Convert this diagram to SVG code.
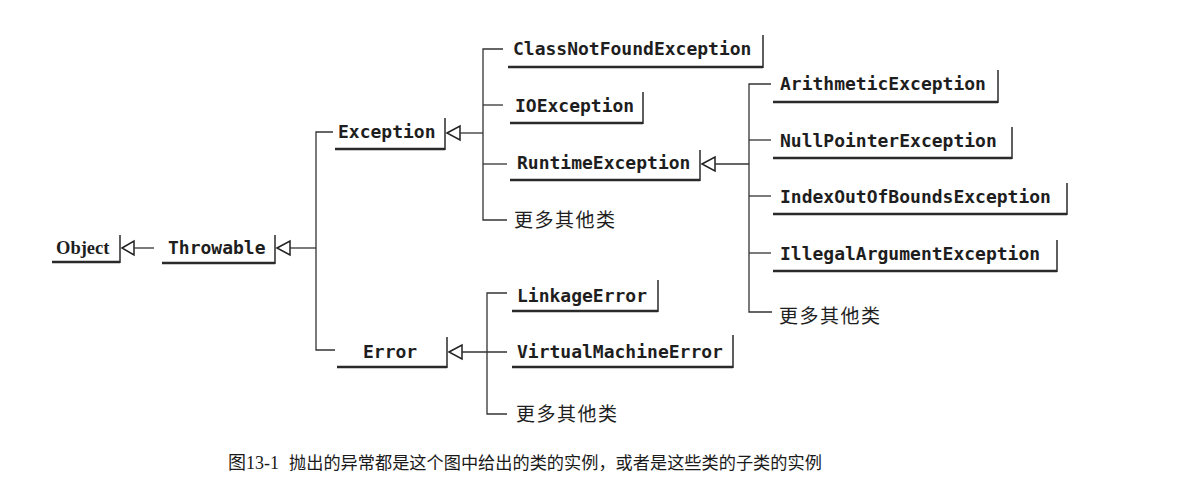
<svg xmlns="http://www.w3.org/2000/svg" width="1190" height="477" viewBox="0 0 1190 477">
<defs>
<style>
.cls{font-family:"DejaVu Sans Mono","Liberation Mono",monospace;font-weight:bold;font-size:18px;fill:#1e1e1e;}
.obj{font-family:"Liberation Serif",serif;font-weight:bold;font-size:18.5px;fill:#1e1e1e;}
.more{font-family:"Noto Sans CJK SC","Noto Sans CJK JP",sans-serif;font-size:19px;letter-spacing:1.5px;fill:#1e1e1e;}
.cap{font-family:"Liberation Serif","Noto Sans CJK SC",serif;font-size:17.2px;fill:#1a1a1a;}
.ul{stroke:#2a2a2a;stroke-width:2.6;fill:none;}
.br{stroke:#2a2a2a;stroke-width:1.5;fill:none;}
.ln{stroke:#333;stroke-width:1.3;fill:none;}
.tri{fill:#fff;stroke:#222;stroke-width:1.5;}
</style>
</defs>
<rect width="1190" height="477" fill="#fff"/>

<g id="connectors">
<!-- Object <- Throwable -->
<polygon class="tri" points="122,248 134,241 134,255"/>
<line class="ln" x1="134" y1="248" x2="154" y2="248"/>
<!-- Throwable <- Exception / Error -->
<polygon class="tri" points="277,248 290,241 290,255"/>
<line class="ln" x1="290" y1="248" x2="316" y2="248"/>
<polyline class="ln" points="333,132 316,132 316,350 335,350"/>
<!-- Exception children -->
<polygon class="tri" points="447,133 460,126 460,140"/>
<line class="ln" x1="460" y1="133" x2="483" y2="133"/>
<polyline class="ln" points="503,49 483,49 483,220 507,220"/>
<line class="ln" x1="483" y1="105" x2="503" y2="105"/>
<line class="ln" x1="483" y1="164" x2="507" y2="164"/>
<!-- RuntimeException children -->
<polygon class="tri" points="702,164 715,157 715,171"/>
<line class="ln" x1="715" y1="164" x2="749" y2="164"/>
<polyline class="ln" points="771,84 749,84 749,312 772,312"/>
<line class="ln" x1="749" y1="140" x2="771" y2="140"/>
<line class="ln" x1="749" y1="196" x2="771" y2="196"/>
<line class="ln" x1="749" y1="253" x2="771" y2="253"/>
<!-- Error children -->
<polygon class="tri" points="449,352 462,345 462,359"/>
<line class="ln" x1="462" y1="352" x2="507" y2="352"/>
<polyline class="ln" points="507,293 487,293 487,414 507,414"/>
</g>

<g id="node-object">
<text class="obj" x="56" y="254">Object</text>
<polyline class="ul" points="52,262 120,262"/>
<line class="br" x1="120" y1="235" x2="120" y2="263"/>
</g>
<g id="node-throwable">
<text class="cls" x="168" y="254">Throwable</text>
<polyline class="ul" points="162,263 275,263"/>
<line class="br" x1="275" y1="235" x2="275" y2="264"/>
</g>
<g id="node-exception">
<text class="cls" x="338" y="138">Exception</text>
<polyline class="ul" points="335,149 445,149"/>
<line class="br" x1="445" y1="118" x2="445" y2="150"/>
</g>
<g id="node-classnotfound">
<text class="cls" x="513" y="55">ClassNotFoundException</text>
<polyline class="ul" points="508,67 763,67"/>
<line class="br" x1="763" y1="35" x2="763" y2="68"/>
</g>
<g id="node-ioexception">
<text class="cls" x="515" y="112">IOException</text>
<polyline class="ul" points="510,123 643,123"/>
<line class="br" x1="643" y1="92" x2="643" y2="124"/>
</g>
<g id="node-runtime">
<text class="cls" x="517" y="169">RuntimeException</text>
<polyline class="ul" points="510,180 700,180"/>
<line class="br" x1="700" y1="150" x2="700" y2="181"/>
</g>
<g id="node-more1">
<text class="more" x="514" y="227">更多其他类</text>
</g>
<g id="node-arithmetic">
<text class="cls" x="780" y="90">ArithmeticException</text>
<polyline class="ul" points="773,102 998,102"/>
<line class="br" x1="998" y1="70" x2="998" y2="103"/>
</g>
<g id="node-nullpointer">
<text class="cls" x="780" y="147">NullPointerException</text>
<polyline class="ul" points="773,158 1012,158"/>
<line class="br" x1="1012" y1="127" x2="1012" y2="159"/>
</g>
<g id="node-indexoutofbounds">
<text class="cls" x="780" y="203">IndexOutOfBoundsException</text>
<polyline class="ul" points="773,214 1067,214"/>
<line class="br" x1="1067" y1="183" x2="1067" y2="215"/>
</g>
<g id="node-illegalargument">
<text class="cls" x="780" y="260">IllegalArgumentException</text>
<polyline class="ul" points="773,271 1057,271"/>
<line class="br" x1="1057" y1="240" x2="1057" y2="272"/>
</g>
<g id="node-more2">
<text class="more" x="779" y="323">更多其他类</text>
</g>
<g id="node-error">
<text class="cls" x="363" y="358">Error</text>
<polyline class="ul" points="337,367 447,367"/>
<line class="br" x1="447" y1="337" x2="447" y2="368"/>
</g>
<g id="node-linkage">
<text class="cls" x="517" y="302">LinkageError</text>
<polyline class="ul" points="512,311 658,311"/>
<line class="br" x1="658" y1="280" x2="658" y2="312"/>
</g>
<g id="node-vm">
<text class="cls" x="517" y="358">VirtualMachineError</text>
<polyline class="ul" points="512,367 733,367"/>
<line class="br" x1="733" y1="335" x2="733" y2="368"/>
</g>
<g id="node-more3">
<text class="more" x="516" y="421">更多其他类</text>
</g>

<g id="caption">
<text class="cap" x="228" y="469"><tspan font-size="18">图13-1</tspan><tspan x="289">抛出的异常都是这个图中给出的类的实例，或者是这些类的子类的实例</tspan></text>
</g>
</svg>
